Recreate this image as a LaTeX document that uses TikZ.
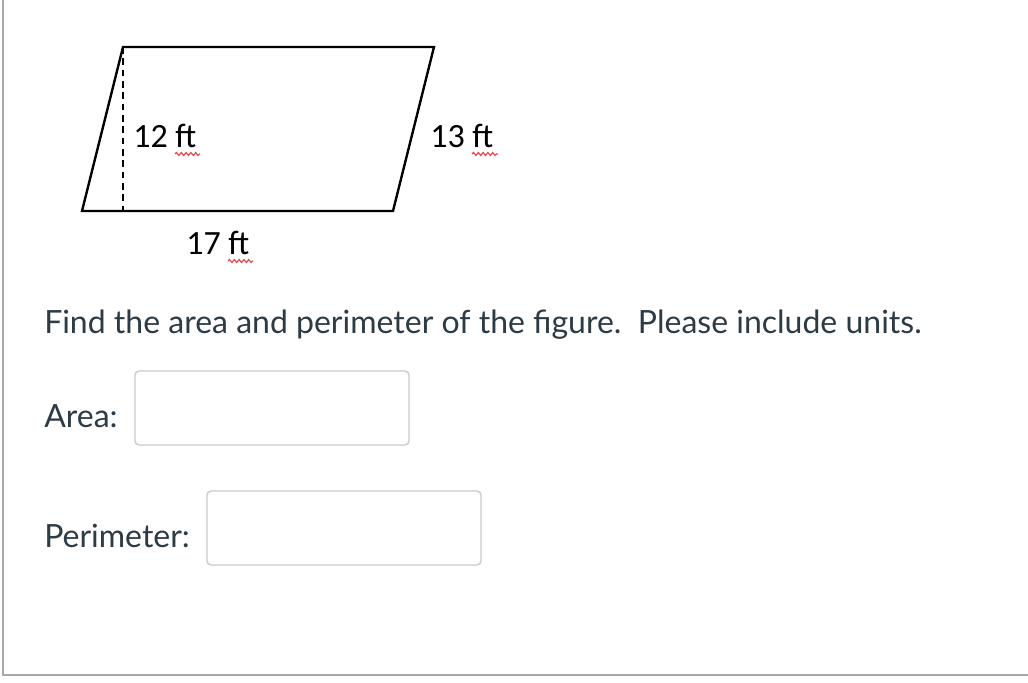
\documentclass[tikz,border=0pt]{standalone}
\usepackage{fontspec}
\setmainfont{Lato}
\newfontfamily\calib{Carlito}
\usetikzlibrary{decorations.pathmorphing}
\definecolor{ink}{HTML}{2D3B45}
\definecolor{frame}{HTML}{A8A8A8}
\definecolor{boxline}{HTML}{C7CDD1}
\definecolor{squig}{HTML}{E8484A}
\tikzset{
  figline/.style={line width=1.8pt, black, line join=miter},
  htline/.style={line width=1.8pt, black, dash pattern=on 5pt off 3.5pt},
  figlabel/.style={anchor=base west, inner sep=0pt, font=\calib\fontsize{25.5pt}{28pt}\selectfont, text=black},
  qtext/.style={anchor=base west, inner sep=0pt, font=\fontsize{24pt}{28pt}\selectfont, text=ink},
  answerbox/.style={draw=boxline, line width=1.1pt, rounded corners=3pt, fill=white},
  spell/.style={draw=squig, line width=0.9pt, decorate, decoration={snake, amplitude=1.1pt, segment length=3.6pt}},
}
\begin{document}
\begin{tikzpicture}[x=0.75pt, y=-0.75pt]
\useasboundingbox (0,0) rectangle (1028,682);
\fill[white] (0,0) rectangle (1028,682);
% outer frame (left and bottom)
\draw[frame, line width=1.5pt] (2.5,0) -- (2.5,674.5) -- (1028,674.5);
% parallelogram
\coordinate (tl) at (123,47);
\coordinate (tr) at (434,47);
\coordinate (br) at (393,211);
\coordinate (bl) at (82,211);
\coordinate (hb) at (123,211);
\draw[figline] (tl) -- (tr) -- (br) -- (bl) -- cycle;
\draw[htline] (tl) -- (hb);
% labels
\node[figlabel] (l12) at (133,147) {12 ft};
\node[figlabel] (l13) at (430,147) {13 ft};
\node[figlabel] (l17) at (186,254) {17 ft};
\draw[spell] (175,154) -- (200,154);
\draw[spell] (472,154) -- (498,154);
\draw[spell] (228,261) -- (253,261);
% question
\node[qtext] (q) at (44,333) {Find the area and perimeter of the figure.\ \ Please include units.};
\node[qtext] (area) at (44,427) {Area:};
\node[qtext] (per) at (44,547) {Perimeter:};
\draw[answerbox] (135,371) rectangle (409,445);
\draw[answerbox] (207,491) rectangle (481,565);
\end{tikzpicture}
\end{document}
